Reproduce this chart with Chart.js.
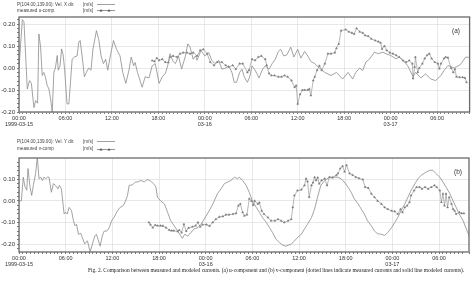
<!DOCTYPE html>
<html>
<head>
<meta charset="utf-8">
<script src="https://cdn.jsdelivr.net/npm/chart.js@4.4.1/dist/chart.umd.min.js"></script>
<style>
  body { margin: 0; background: #fff; width: 474px; height: 282px; overflow: hidden; position: relative;
         font-family: "Liberation Sans", Arial, sans-serif; color: #333; }
  canvas { position: absolute; left: 0; }
  #ca { top: 0; }
  #cb { top: 138px; }
  .lg { position: absolute; font-size: 4.6px; line-height: 5px; white-space: nowrap; color: #444; }
  .tag { position: absolute; font-size: 6.5px; color: #333; }
  #cap { position: absolute; left: 88px; top: 267px; font-family: "Liberation Serif", "Times New Roman", serif;
         font-size: 5.4px; white-space: nowrap; color: #222; }
</style>
</head>
<body>
<canvas id="ca" width="474" height="135"></canvas>
<canvas id="cb" width="474" height="130"></canvas>

<div class="lg" style="left:17px;top:1.5px">P(104.00,139.00): Vel. X dir.</div>
<div class="lg" style="left:83px;top:1.5px">[m/s]</div>
<svg style="position:absolute;left:97px;top:2px" width="19" height="5"><line x1="0" y1="2.5" x2="18" y2="2.5" stroke="#777" stroke-width="0.7"/></svg>
<div class="lg" style="left:17px;top:7.5px">measured u-comp.</div>
<div class="lg" style="left:83px;top:7.5px">[m/s]</div>
<svg style="position:absolute;left:97px;top:8px" width="19" height="5"><line x1="0" y1="2.5" x2="18" y2="2.5" stroke="#666" stroke-width="0.7"/><path d="M4 1 L5.5 3.6 L2.5 3.6Z M12 1 L13.5 3.6 L10.5 3.6Z" fill="#555"/></svg>

<div class="lg" style="left:17px;top:138.5px">P(104.00,139.00): Vel. Y dir.</div>
<div class="lg" style="left:83px;top:138.5px">[m/s]</div>
<svg style="position:absolute;left:97px;top:139px" width="19" height="5"><line x1="0" y1="2.5" x2="18" y2="2.5" stroke="#777" stroke-width="0.7"/></svg>
<div class="lg" style="left:17px;top:146px">measured v-comp</div>
<div class="lg" style="left:83px;top:146px">[m/s]</div>
<svg style="position:absolute;left:97px;top:146.5px" width="19" height="5"><line x1="0" y1="2.5" x2="18" y2="2.5" stroke="#666" stroke-width="0.7"/><path d="M4 1 L5.5 3.6 L2.5 3.6Z M12 1 L13.5 3.6 L10.5 3.6Z" fill="#555"/></svg>

<div class="tag" style="left:452px;top:27px">(a)</div>
<div class="tag" style="left:454px;top:168px">(b)</div>

<div id="cap">Fig. 2. Comparison between measured and modeled currents. (a) u-component and (b) v-component (dotted lines indicate measured currents and solid line modeled currents).</div>

<script>
// hours since 1999-03-15 00:00
const tickHours = [0, 6, 12, 18, 24, 30, 36, 42, 48, 54];
const tickTimes = ['00:00', '06:00', '12:00', '18:00', '00:00', '06:00', '12:00', '18:00', '00:00', '06:00'];
const tickDates = ['1999-03-15', '', '', '', '03-16', '', '', '', '03-17', ''];

// (a) modeled u
const modelUHours = [0, 0.43, 0.64, 1.07, 1.37, 1.6, 1.93, 2.15, 2.4, 2.57, 2.79, 3.0, 3.2, 3.4, 3.65, 3.86, 4.08, 4.29,
  4.5, 4.7, 4.94, 5.07, 5.3, 5.5, 5.7, 5.9, 6.2, 6.44, 6.65, 6.86, 7.15, 7.5, 7.72, 7.9, 8.15, 8.45, 8.7, 9.0, 9.3,
  9.55, 10.0, 10.3, 10.6, 10.9, 11.2, 11.46, 11.8, 12.2, 12.6, 13.05, 13.4, 13.8, 14.2, 14.5, 14.8, 15.0, 15.3, 15.9,
  16.3, 16.8, 17.2, 17.6, 18.1, 18.5, 18.9, 19.2, 19.5, 19.9, 20.2, 20.6, 21.0, 21.5, 21.8, 22.1, 22.5, 22.8, 23.0,
  23.5, 23.7, 24.0, 24.5, 24.9, 25.3, 25.8, 26.2, 26.7, 27.1, 27.5, 27.8, 28.1, 28.5, 28.8, 29.1, 29.5, 29.8, 30.1,
  30.5, 31.0, 31.4, 31.8, 32.3, 32.7, 33.1, 33.5, 33.8, 34.2, 34.6, 35.1, 35.5, 36.0, 36.4, 36.9, 37.3, 37.7, 38.2,
  38.8, 39.5, 40.3, 41.0, 41.8, 42.5, 43.1, 43.5, 44.0, 44.4, 44.8, 45.3, 45.9, 46.4, 47.0, 47.4, 48.0, 48.7, 49.1,
  49.8, 50.2, 50.9, 51.2, 51.9, 52.5, 53.2, 53.8, 54.5, 54.9, 55.4, 56.2, 57.0, 57.7, 58.2];
const modelU = [0.00, 0.22, 0.21, -0.095, -0.057, -0.07, -0.18, -0.148, -0.16, 0.155, 0.095, -0.034, -0.02, -0.04, -0.08,
  -0.095, -0.14, -0.20, -0.02, 0.00, 0.057, -0.01, 0.01, 0.087, 0.06, -0.01, -0.163, -0.163, -0.065, 0.04, 0.05, 0.055,
  0.117, 0.125, 0.055, -0.04, -0.02, 0.00, -0.01, 0.085, 0.17, 0.13, 0.055, 0.02, 0.04, -0.01, 0.055, 0.125, 0.085,
  0.055, -0.02, -0.07, -0.01, 0.05, 0.01, 0.025, -0.02, -0.087, -0.04, -0.045, 0.01, 0.02, -0.07, -0.04, -0.025, 0.01,
  0.065, 0.03, 0.02, 0.055, -0.005, 0.055, 0.11, 0.095, 0.04, 0.055, 0.035, 0.08, 0.07, 0.055, 0.07, 0.035, 0.02,
  0.035, -0.005, 0.00, 0.01, -0.02, -0.065, -0.065, -0.02, -0.005, -0.04, -0.065, -0.04, 0.01, -0.01, -0.045, -0.01,
  0.01, -0.005, 0.02, 0.04, 0.075, 0.085, 0.055, 0.06, 0.095, 0.05, 0.085, 0.045, 0.075, 0.055, 0.03, 0.02, 0.00,
  -0.02, -0.034, -0.02, -0.05, -0.02, -0.05, -0.02, 0.00, -0.011, 0.027, 0.042, 0.072, 0.065, 0.072, 0.065, 0.057,
  0.042, 0.05, 0.027, 0.011, -0.04, -0.02, -0.045, -0.027, -0.05, -0.057, -0.034, -0.011, 0.011, 0.0, 0.015, 0.05, 0.048];

// (a) measured u
const measUHours = [17.2, 17.5, 17.8, 18.1, 18.5, 18.9, 19.3, 19.5, 19.9, 20.4, 20.8, 21.2, 21.7, 22.1, 22.5, 23.0, 23.4,
  23.8, 24.3, 24.7, 25.2, 25.6, 26.2, 26.7, 27.1, 27.6, 28.0, 28.5, 28.9, 29.5, 29.7, 30.1, 30.5, 30.9, 31.3, 31.8,
  32.0, 32.3, 32.6, 33.0, 33.5, 33.9, 34.3, 34.7, 35.2, 35.6, 35.8, 36.0, 36.3, 36.6, 36.9, 37.3, 37.5, 37.7, 38.0,
  38.2, 38.5, 38.8, 39.1, 39.5, 39.9, 40.3, 40.8, 41.0, 41.3, 41.6, 42.2, 42.6, 43.0, 43.3, 43.6, 44.0, 44.4, 44.7,
  45.1, 45.5, 46.0, 46.4, 46.7, 46.9, 47.2, 47.5, 47.9, 48.3, 48.7, 49.1, 49.6, 50.0, 50.4, 50.8, 50.9, 51.1, 51.2,
  51.5, 51.7, 52.1, 52.4, 52.7, 53.0, 53.3, 53.7, 54.1, 54.3, 54.5, 54.9, 55.1, 55.4, 55.8, 56.1, 56.3, 56.5, 56.9,
  57.3, 57.6, 57.8];
const measU = [0.034, 0.03, 0.045, 0.035, 0.04, 0.027, 0.025, 0.05, 0.055, 0.05, 0.065, 0.07, 0.07, 0.065, 0.07, 0.055,
  0.08, 0.085, 0.065, 0.027, 0.012, 0.027, 0.027, 0.012, 0.005, 0.012, -0.005, 0.02, 0.02, -0.02, -0.01, 0.04, 0.035,
  0.05, 0.055, 0.04, 0.012, -0.025, -0.034, -0.034, -0.04, -0.04, -0.034, -0.04, -0.057, -0.087, -0.08, -0.163, -0.12,
  -0.1, -0.1, -0.1, -0.095, -0.125, -0.057, -0.04, -0.01, 0.01, -0.01, 0.02, 0.065, 0.065, 0.07, 0.09, 0.11, 0.17,
  0.175, 0.165, 0.16, 0.155, 0.18, 0.165, 0.16, 0.148, 0.145, 0.133, 0.125, 0.12, 0.115, 0.087, 0.1, 0.08, 0.07,
  0.065, 0.058, 0.05, 0.034, 0.027, 0.034, 0.02, -0.048, 0.005, 0.05, -0.02, 0.0, 0.02, 0.043, 0.058, 0.065, 0.043,
  0.027, 0.02, -0.003, 0.02, 0.043, 0.05, 0.047, 0.0, -0.02, -0.005, -0.04, -0.042, -0.042, -0.045, -0.065];

// (b) modeled v
const modelVHours = [0, 0.3, 0.55, 0.77, 1.0, 1.16, 1.42, 1.63, 1.84, 2.14, 2.36, 2.57, 2.8, 3.0, 3.2, 3.43, 3.65, 3.86,
  4.16, 4.42, 4.7, 5.0, 5.2, 5.45, 5.8, 6.0, 6.2, 6.44, 6.75, 7.0, 7.2, 7.4, 7.64, 7.94, 8.15, 8.45, 8.8, 9.14, 9.44,
  9.74, 9.95, 10.17, 10.43, 10.7, 10.95, 11.3, 11.6, 11.9, 12.2, 12.66, 13.0, 13.4, 13.7, 13.95, 14.16, 14.6, 15.0,
  15.3, 15.67, 16.1, 16.5, 16.9, 17.3, 17.6, 17.8, 18.2, 18.7, 19.1, 19.5, 19.96, 20.4, 20.8, 21.0, 21.3, 21.7, 22.1,
  22.5, 23.0, 23.4, 23.8, 24.2, 24.7, 25.1, 25.5, 25.97, 26.4, 26.8, 27.25, 27.7, 28.1, 28.3, 28.75, 29.2, 29.6, 30.0,
  30.5, 30.9, 31.3, 31.8, 32.2, 32.6, 33.05, 33.5, 33.9, 34.3, 35.0, 35.4, 35.8, 36.3, 36.7, 37.1, 37.6, 38.0, 38.4,
  38.8, 39.3, 39.9, 40.6, 41.0, 41.4, 41.8, 42.3, 42.7, 43.1, 43.6, 44.0, 44.4, 44.8, 45.3, 45.7, 46.1, 46.6, 47.0,
  47.4, 47.9, 48.3, 48.7, 49.1, 49.6, 50.0, 50.4, 50.9, 51.3, 51.7, 52.4, 52.8, 53.2, 53.6, 54.1, 54.5, 54.9, 55.4,
  55.8, 56.2, 56.6, 57.1, 57.5, 57.85];
const modelV = [0.00, 0.00, 0.11, 0.065, 0.05, 0.15, 0.064, 0.025, 0.072, 0.127, 0.205, 0.103, 0.11, 0.095, 0.11, 0.103,
  0.11, 0.11, 0.04, 0.08, 0.072, 0.056, 0.072, 0.056, -0.061, -0.052, -0.061, -0.03, -0.045, -0.092, -0.116, -0.108,
  -0.155, -0.15, -0.17, -0.2, -0.185, -0.236, -0.2, -0.163, -0.155, -0.18, -0.21, -0.163, -0.14, -0.14, -0.124,
  -0.092, -0.077, -0.046, -0.03, -0.022, 0.0, 0.025, 0.072, 0.075, 0.088, 0.088, 0.095, 0.088, 0.099, 0.092, 0.08,
  0.064, 0.017, 0.0, -0.014, -0.053, -0.092, -0.116, -0.14, -0.163, -0.174, -0.155, -0.163, -0.147, -0.13, -0.124,
  -0.108, -0.085, -0.061, -0.03, 0.0, 0.033, 0.056, 0.08, 0.087, 0.095, 0.11, 0.103, 0.11, 0.095, 0.072, 0.04, 0.0,
  -0.03, -0.053, -0.077, -0.1, -0.124, -0.147, -0.178, -0.194, -0.205, -0.21, -0.2, -0.186, -0.17, -0.155, -0.13,
  -0.108, -0.077, -0.038, 0.02, 0.072, 0.095, 0.11, 0.11, 0.11, 0.103, 0.088, 0.064, 0.04, 0.01, -0.014, -0.038,
  -0.061, -0.092, -0.116, -0.14, -0.152, -0.155, -0.16, -0.147, -0.124, -0.1, -0.077, -0.046, -0.014, 0.017, 0.048,
  0.08, 0.103, 0.119, 0.135, 0.142, 0.142, 0.127, 0.11, 0.088, 0.064, 0.033, 0.0, -0.03, -0.061, -0.092, -0.13, -0.16];

// (b) measured v
const measVHours = [16.7, 16.9, 17.2, 17.5, 17.8, 18.2, 18.5, 18.9, 19.3, 19.6, 19.9, 20.4, 20.6, 20.9, 21.2, 21.5,
  21.8, 22.3, 22.7, 23.0, 23.3, 23.6, 24.1, 24.5, 24.9, 25.3, 25.75, 26.2, 26.6, 27.0, 27.5, 27.9, 28.2, 28.45, 28.75,
  28.97, 29.3, 29.6, 29.9, 30.1, 30.3, 30.7, 30.9, 31.2, 31.5, 32.0, 32.4, 32.9, 33.3, 33.7, 34.1, 34.6, 35.0, 35.2,
  35.4, 35.8, 36.3, 36.7, 36.9, 37.1, 37.3, 37.6, 37.8, 38.0, 38.2, 38.4, 38.6, 38.9, 39.3, 39.6, 39.9, 40.3, 40.8,
  41.0, 41.3, 41.6, 41.85, 42.1, 42.5, 42.9, 43.3, 43.7, 44.2, 44.5, 44.9, 45.3, 45.7, 46.1, 46.6, 47.0, 47.4, 47.9,
  48.3, 48.7, 49.05, 49.3, 49.6, 49.9, 50.2, 50.4, 50.8, 51.1, 51.5, 51.8, 52.2, 52.6, 53.0, 53.4, 53.7, 54.1, 54.3,
  54.5, 54.7, 54.9, 55.1, 55.3, 55.6, 55.8, 56.0, 56.2, 56.6, 56.9, 57.2];
const measV = [-0.1, -0.11, -0.124, -0.112, -0.115, -0.115, -0.116, -0.124, -0.135, -0.138, -0.138, -0.142, -0.135,
  -0.147, -0.108, -0.14, -0.125, -0.12, -0.115, -0.1, -0.12, -0.11, -0.11, -0.116, -0.1, -0.085, -0.074, -0.072,
  -0.064, -0.064, -0.061, -0.058, -0.022, -0.014, -0.053, -0.069, -0.064, 0.01, 0.0, -0.02, 0.0, -0.014, -0.008,
  -0.046, -0.061, -0.077, -0.092, -0.092, -0.085, -0.092, -0.1, -0.092, -0.085, -0.03, 0.025, 0.048, 0.052, 0.072,
  0.103, 0.09, 0.017, 0.072, 0.085, 0.11, 0.095, 0.108, 0.08, 0.095, 0.103, 0.072, 0.11, 0.108, 0.119, 0.127, 0.15,
  0.161, 0.135, 0.166, 0.127, 0.12, 0.11, 0.105, 0.099, 0.064, 0.06, 0.033, 0.017, 0.0, -0.014, -0.03, -0.038, -0.046,
  -0.049, -0.061, -0.038, -0.053, -0.03, -0.022, -0.006, 0.025, 0.048, 0.064, 0.064, 0.056, 0.064, 0.056, 0.064,
  0.072, 0.064, 0.048, -0.006, 0.033, -0.022, 0.033, -0.03, 0.017, -0.014, -0.038, -0.046, -0.061, -0.053, -0.058, -0.058];

const pts = (xs, ys) => xs.map((x, i) => ({ x: x, y: ys[i] }));
const isMajorY = v => Math.abs(v * 10 - Math.round(v * 10)) < 1e-6;

Chart.defaults.font.family = '"Liberation Sans", Arial, sans-serif';
Chart.defaults.color = '#333';

const framePlugin = {
  id: 'frame',
  afterDatasetsDraw(chart) {
    const a = chart.chartArea, c = chart.ctx;
    c.save();
    c.strokeStyle = '#6a6a6a';
    c.lineWidth = 1.3;
    c.strokeRect(a.left, a.top, a.right - a.left, a.bottom - a.top);
    c.restore();
  }
};

function makeChart(id, model, meas, opts) {
  return new Chart(document.getElementById(id), {
    type: 'line',
    data: {
      datasets: [
        { data: model, borderColor: '#8c8c8c', borderWidth: 0.8, pointRadius: 0, tension: 0 },
        { data: meas, borderColor: '#888', borderWidth: 0.6, pointRadius: 1.1, pointStyle: 'triangle',
          pointBackgroundColor: '#888', pointBorderColor: '#666', pointBorderWidth: 0.4, tension: 0 }
      ]
    },
    options: {
      responsive: false,
      animation: false,
      devicePixelRatio: 1,
      layout: { padding: { top: opts.top, right: opts.right, left: 0, bottom: 0 } },
      plugins: { legend: { display: false }, tooltip: { enabled: false } },
      scales: {
        x: {
          type: 'linear', min: 0, max: opts.xMax,
          afterFit: s => { s.height = opts.xHeight; },
          border: { display: false },
          grid: {
            color: ctx => (ctx.tick && tickHours.includes(ctx.tick.value)) ? '#dedede' : 'rgba(0,0,0,0)',
            lineWidth: 0.7, tickColor: '#444', tickLength: 2
          },
          ticks: {
            stepSize: 0.5, autoSkip: false, maxRotation: 0, minRotation: 0, padding: 1,
            font: { size: 5.5 }, color: '#333',
            callback: v => {
              const i = tickHours.indexOf(v);
              if (i < 0) return '';
              return tickDates[i] ? [tickTimes[i], tickDates[i]] : tickTimes[i];
            }
          }
        },
        y: {
          min: opts.yMin, max: opts.yMax,
          afterFit: s => { s.width = 19; },
          border: { display: false },
          grid: {
            color: ctx => (ctx.tick && isMajorY(ctx.tick.value)) ? '#dedede' : 'rgba(0,0,0,0)',
            lineWidth: 0.7, tickColor: '#444', tickLength: 2
          },
          ticks: {
            stepSize: 0.02, includeBounds: false, autoSkip: false, padding: 2,
            font: { size: 6 }, color: '#333',
            callback: v => isMajorY(v) ? v.toFixed(2) : ''
          }
        }
      }
    },
    plugins: [framePlugin]
  });
}

makeChart('ca', pts(modelUHours, modelU), pts(measUHours, measU),
  { top: 17, right: 2, xHeight: 23, xMax: 58.2, yMin: -0.2, yMax: 0.232 });
makeChart('cb', pts(modelVHours, modelV), pts(measVHours, measV),
  { top: 20, right: 5, xHeight: 16, xMax: 57.85, yMin: -0.237, yMax: 0.199 });

// fit caption to its width in the picture
const cap = document.getElementById('cap');
const w = cap.getBoundingClientRect().width;
cap.style.fontSize = (5.4 * 377 / w) + 'px';
</script>
</body>
</html>
